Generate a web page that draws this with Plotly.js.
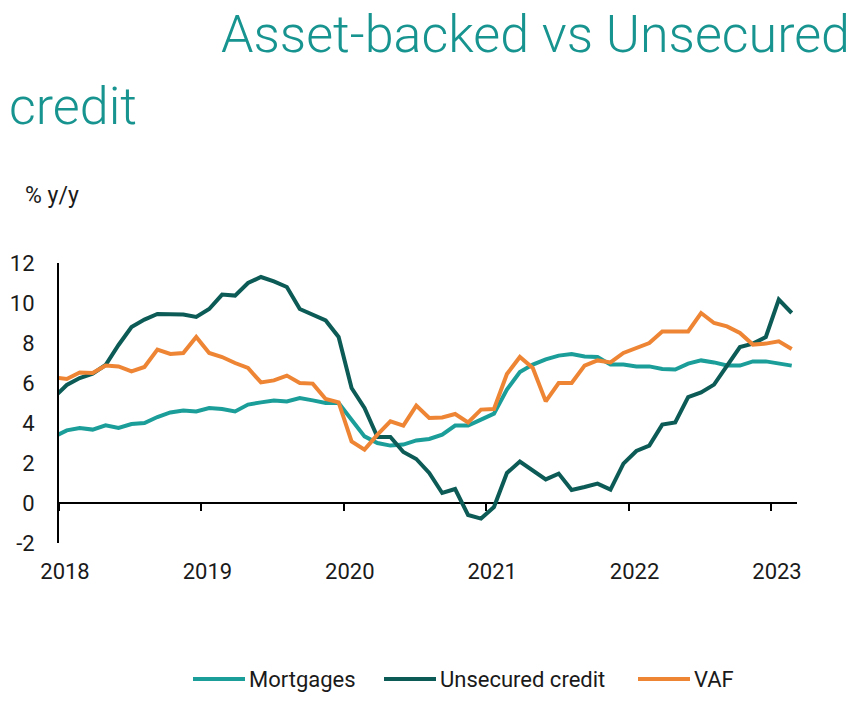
<!DOCTYPE html>
<html>
<head>
<meta charset="utf-8">
<script src="https://cdn.plot.ly/plotly-3.0.1.min.js"></script>
<style>
  html, body { margin: 0; padding: 0; background: #fff; }
  #chart { width: 859px; height: 703px; }
</style>
</head>
<body>
<div id="chart"></div>
<script>
// Growth in credit extension, % y/y. Readings are evenly spaced through time;
// the first one sits just before the start of 2018 and is clipped by the axis.
const firstReading = 2018 - 0.4 / 11;
const readingStep = 1 / 11;

const mortgages = [
  3.30, 3.63, 3.75, 3.67, 3.88, 3.75, 3.95, 4.00, 4.30, 4.53,
  4.63, 4.58, 4.75, 4.70, 4.58, 4.92, 5.03, 5.13, 5.08, 5.25,
  5.13, 5.00, 5.00, 4.17, 3.33, 3.00, 2.87, 2.92, 3.13, 3.20,
  3.42, 3.87, 3.87, 4.17, 4.47, 5.67, 6.55, 6.92, 7.18, 7.37,
  7.45, 7.33, 7.30, 6.92, 6.92, 6.83, 6.83, 6.70, 6.67, 6.97,
  7.13, 7.03, 6.88, 6.87, 7.08, 7.08, 7.00, 6.87
];

const unsecured = [
  5.28, 5.90, 6.25, 6.47, 6.90, 7.90, 8.80, 9.17, 9.45, 9.42,
  9.42, 9.30, 9.70, 10.42, 10.37, 11.00, 11.30, 11.08, 10.80, 9.70,
  9.42, 9.13, 8.30, 5.75, 4.75, 3.30, 3.30, 2.55, 2.20, 1.50,
  0.50, 0.70, -0.60, -0.78, -0.20, 1.50, 2.07, 1.65, 1.18, 1.47,
  0.65, 0.80, 0.97, 0.67, 1.97, 2.60, 2.87, 3.92, 4.03, 5.30,
  5.53, 5.92, 6.83, 7.80, 7.97, 8.30, 10.17, 9.50
];

const vaf = [
  6.28, 6.20, 6.53, 6.50, 6.87, 6.83, 6.58, 6.80, 7.67, 7.45,
  7.50, 8.30, 7.50, 7.30, 7.00, 6.75, 6.03, 6.13, 6.37, 6.00,
  5.97, 5.20, 5.03, 3.08, 2.67, 3.42, 4.08, 3.87, 4.87, 4.25,
  4.28, 4.45, 4.03, 4.67, 4.70, 6.45, 7.30, 6.75, 5.08, 6.00,
  6.00, 6.87, 7.13, 7.03, 7.50, 7.75, 8.00, 8.58, 8.58, 8.58,
  9.50, 9.00, 8.83, 8.50, 7.92, 7.97, 8.08, 7.70
];

const seriesNames = ['Mortgages', 'Unsecured credit', 'VAF'];
const seriesColors = ['#1b9e99', '#0c5b56', '#ee8535'];

const yearLabels = ['2018', '2019', '2020', '2021', '2022', '2023'];
const yTickLabels = ['-2', '0', '2', '4', '6', '8', '10', '12'];

const readingDates = mortgages.map((_, i) => firstReading + i * readingStep);

const FONT = 'Roboto, "Noto Sans", sans-serif';
const TEAL_TITLE = '#17948f';

// plot-area geometry in pixels
const W = 859, H = 703;
const M = { l: 59, r: 62, t: 263, b: 160 };
const plotW = W - M.l - M.r, plotH = H - M.t - M.b;
const px = X => (X - M.l) / plotW;          // pixel x -> paper x
const py = Y => (H - M.b - Y) / plotH;      // pixel y -> paper y

const traces = [mortgages, unsecured, vaf].map((vals, i) => ({
  type: 'scatter',
  mode: 'lines',
  name: seriesNames[i],
  x: readingDates,
  y: vals,
  line: { color: seriesColors[i], width: 4, shape: 'linear' },
  showlegend: false,
  hoverinfo: 'skip'
}));

// legend drawn as line samples + labels beneath the chart
const legendShapes = [];
const legendNotes = [];
const legendY = 679;
const legendStarts = [193, 384, 638];
seriesNames.forEach((name, i) => {
  const x0 = legendStarts[i];
  legendShapes.push({
    type: 'line', xref: 'paper', yref: 'paper',
    x0: px(x0), x1: px(x0 + 52), y0: py(legendY), y1: py(legendY),
    line: { color: seriesColors[i], width: 4 }
  });
  legendNotes.push({
    xref: 'paper', yref: 'paper', x: px(x0 + 54), y: py(legendY),
    xanchor: 'left', yanchor: 'middle', showarrow: false,
    text: name, font: { family: FONT, size: 22, color: '#1a1a1a' }
  });
});

const layout = {
  width: W, height: H,
  margin: M,
  paper_bgcolor: '#ffffff',
  plot_bgcolor: '#ffffff',
  showlegend: false,
  title: {
    text: 'Asset-backed vs Unsecured',
    xref: 'container', x: 850 / W, xanchor: 'right',
    yref: 'container', y: 1 - 34 / H, yanchor: 'middle',
    font: { family: FONT, size: 52, weight: 300, color: TEAL_TITLE }
  },
  xaxis: {
    type: 'linear',
    range: [2018, 2018 + plotW / 142.4],
    anchor: 'free', position: 2 / 14,
    showgrid: false, zeroline: false,
    showline: true, linecolor: '#000', linewidth: 2,
    ticks: 'outside', ticklen: 7, tickwidth: 2, tickcolor: '#000',
    tickvals: yearLabels.map(Number), ticktext: yearLabels,
    ticklabelstandoff: 42, ticklabelshift: 6,
    tickfont: { family: FONT, size: 22, color: '#1a1a1a' },
    layer: 'below traces', fixedrange: true
  },
  yaxis: {
    range: [-2, 12],
    showgrid: false, zeroline: false,
    showline: true, linecolor: '#000', linewidth: 2,
    ticks: '',
    tickvals: yTickLabels.map(Number), ticktext: yTickLabels,
    ticklabelstandoff: 18,
    tickfont: { family: FONT, size: 22, color: '#1a1a1a' },
    layer: 'below traces', fixedrange: true
  },
  shapes: legendShapes,
  annotations: [
    {
      xref: 'paper', yref: 'paper', x: px(7), y: py(106),
      xanchor: 'left', yanchor: 'middle', showarrow: false,
      text: 'credit',
      font: { family: FONT, size: 52, weight: 300, color: TEAL_TITLE }
    },
    {
      xref: 'paper', yref: 'paper', x: px(23), y: py(195),
      xanchor: 'left', yanchor: 'middle', showarrow: false,
      text: '% y/y',
      font: { family: FONT, size: 23, color: '#1a1a1a' }
    },
    ...legendNotes
  ]
};

Plotly.newPlot('chart', traces, layout, { displayModeBar: false, staticPlot: true });
</script>
</body>
</html>
